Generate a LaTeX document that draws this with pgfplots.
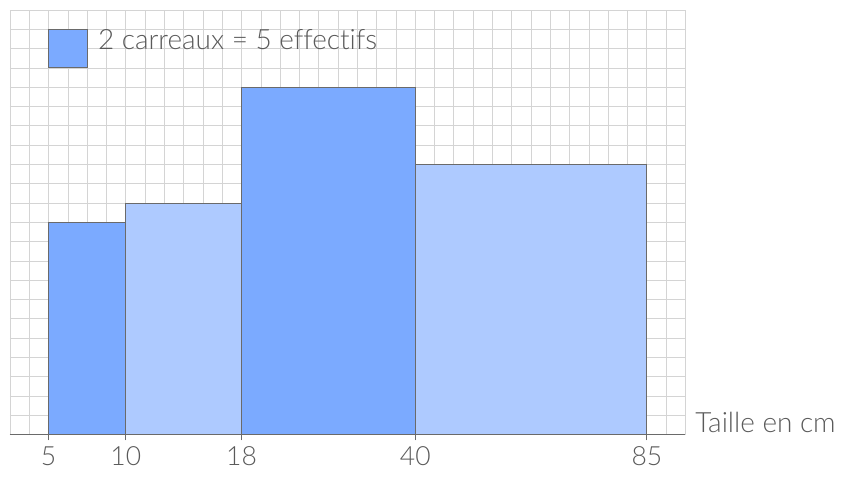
\documentclass[border=0pt]{standalone}
\usepackage{pgfplots}
\pgfplotsset{compat=1.18}
\usepackage{fontspec}
\setmainfont{Lato Light}[Ligatures={NoCommon,NoRare}]
\definecolor{barA}{HTML}{7BAAFF}
\definecolor{barB}{HTML}{AECAFF}
\definecolor{edge}{HTML}{6A6A6A}
\definecolor{txt}{HTML}{5A5A5A}
\definecolor{gridc}{HTML}{D4D4D4}
\begin{document}
\begin{tikzpicture}
\begin{axis}[
  x=0.5cm, y=0.5cm,
  xmin=-2, xmax=33, ymin=0, ymax=22,
  scale only axis, clip=false,
  axis x line*=bottom, axis y line*=left,
  y axis line style={draw=none},
  x axis line style={draw=edge, line width=0.8pt, -},
  xtick={-2,...,33}, ytick={0,...,22},
  xticklabels={}, yticklabels={},
  major tick style={draw=none},
  grid=major, grid style={draw=gridc, line width=0.55pt},
  extra x ticks={0,4,10,19,31},
  extra x tick labels={5,10,18,40,85},
  extra x tick style={grid=none, tick align=outside, major tick length=0.15cm,
     major tick style={draw=edge, line width=0.8pt},
     xticklabel style={font=\fontsize{19.5}{23}\selectfont, text=txt, yshift=-1pt}},
  /pgf/number format/assume math mode=true,
]
\addplot[fill=barA, draw=edge, line width=0.7pt] coordinates {(0,0) (0,11) (4,11) (4,0)} -- cycle;
\addplot[fill=barB, draw=edge, line width=0.7pt] coordinates {(4,0) (4,12) (10,12) (10,0)} -- cycle;
\addplot[fill=barA, draw=edge, line width=0.7pt] coordinates {(10,0) (10,18) (19,18) (19,0)} -- cycle;
\addplot[fill=barB, draw=edge, line width=0.7pt] coordinates {(19,0) (19,14) (31,14) (31,0)} -- cycle;
\addplot[fill=barA, draw=edge, line width=0.7pt] coordinates {(0,19) (0,21) (2,21) (2,19)} -- cycle;
\draw[draw=edge, line width=0.8pt] (axis cs:-2,0) -- (axis cs:33,0);
\node[anchor=west, text=txt, font=\fontsize{20.6}{24}\selectfont, inner sep=0pt] at (axis cs:2.55,20.45) {2 carreaux = 5 effectifs};
\node[anchor=base west, text=txt, font=\fontsize{20.6}{24}\selectfont, inner sep=0pt] at (axis cs:33.5,0.1) {Taille en cm};
\path (axis cs:-2.518,-2.54) rectangle (axis cs:41.32,22.52);
\end{axis}
\end{tikzpicture}
\end{document}
